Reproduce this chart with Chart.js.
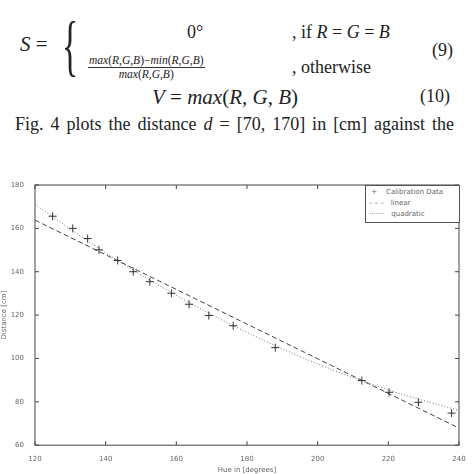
<!DOCTYPE html>
<html>
<head>
<script src="https://cdn.jsdelivr.net/npm/chart.js@4.4.0/dist/chart.umd.min.js"></script>
<style>
body { margin: 0; width: 474px; height: 474px; background: #fff; position: relative; overflow: hidden; font-family: 'Liberation Serif', serif; color: #222; }
.t { position: absolute; white-space: nowrap; }
i { font-style: italic; }
#wrap { position: absolute; left: 0; top: 168px; width: 474px; height: 306px; }
#legend { position: absolute; left: 365px; top: 185px; width: 93px; height: 36px; border: 1px solid #555; background: #fff; font-family: 'DejaVu Sans', sans-serif; font-size: 7px; color: #666; }
#legend div { position: absolute; left: 3px; white-space: nowrap; }
</style>
</head>
<body>
<div class="t" style="left:20px;top:32px;font-size:21px;"><i>S</i> =</div>
<div class="t" style="left:62px;top:6px;font-size:68px;font-weight:100;transform:scaleX(0.5);transform-origin:left;">{</div>
<div class="t" style="left:187px;top:22px;font-size:18px;">0°</div>
<div class="t" style="left:88px;top:54px;font-size:11.5px;text-align:center;line-height:13px;">
  <div style="border-bottom:1px solid #333;padding:0 1px;"><i>max</i>(<i>R,G,B</i>)−<i>min</i>(<i>R,G,B</i>)</div>
  <div><i>max</i>(<i>R,G,B</i>)</div>
</div>
<div class="t" style="left:292px;top:22px;font-size:18px;">, if <i>R</i> = <i>G</i> = <i>B</i></div>
<div class="t" style="left:292px;top:57px;font-size:18px;">, otherwise</div>
<div class="t" style="left:432px;top:40px;font-size:18px;">(9)</div>
<div class="t" style="left:152px;top:85px;font-size:21px;"><i>V</i> = <i>max</i>(<i>R, G, B</i>)</div>
<div class="t" style="left:420px;top:86px;font-size:18px;">(10)</div>
<div class="t" style="left:15px;top:114px;font-size:18px;word-spacing:2.5px;">Fig. 4 plots the distance <i>d</i> = [70, 170] in [cm] against the</div>

<div id="wrap"><canvas id="c"></canvas></div>
<div id="legend">
  <div style="top:2px;">&nbsp;+&nbsp;&nbsp;&nbsp;&nbsp;Calibration Data</div>
  <div style="top:13px;">– – –&nbsp;&nbsp;&nbsp;linear</div>
  <div style="top:24px;">·······&nbsp;&nbsp;&nbsp;quadratic</div>
</div>
<script>
// calibration points
const hueData = [125, 130.7, 134.9, 138.1, 143.4, 147.8, 152.5, 158.6, 163.6, 169.2, 176.1, 188, 212.5, 220.2, 228.5, 237.9];
const distData = [165.6, 160, 155.3, 150.1, 145.2, 140, 135.4, 130.1, 125, 119.8, 115.1, 105, 89.8, 84.4, 79.8, 74.8];
// fitted curves as seen in the figure
const linX = [120, 240];
const linY = [163.8, 67.9];
const quadX = [120, 140, 160, 180, 200, 220, 240];
const quadY = [171, 148.7, 129.1, 112, 97.5, 85.5, 76];
const xTicks = [120, 140, 160, 180, 200, 220, 240];
const yTicks = [60, 80, 100, 120, 140, 160, 180];

function pts(xs, ys) {
    const out = [];
    for (let i = 0; i < xs.length; i++) out.push({ x: xs[i], y: ys[i] });
    return out;
}

// box around the plot with inward ticks, matlab style
const framePlugin = {
    id: 'frame',
    afterDraw(chart) {
        const a = chart.chartArea, ctx = chart.ctx;
        const xs = chart.scales.x, ys = chart.scales.y;
        ctx.save();
        ctx.strokeStyle = '#444';
        ctx.lineWidth = 1;
        ctx.strokeRect(a.left, a.top, a.right - a.left, a.bottom - a.top);
        ctx.beginPath();
        xTicks.forEach(v => {
            const p = xs.getPixelForValue(v);
            ctx.moveTo(p, a.bottom); ctx.lineTo(p, a.bottom - 4);
            ctx.moveTo(p, a.top); ctx.lineTo(p, a.top + 4);
        });
        yTicks.forEach(v => {
            const p = ys.getPixelForValue(v);
            ctx.moveTo(a.left, p); ctx.lineTo(a.left + 4, p);
            ctx.moveTo(a.right, p); ctx.lineTo(a.right - 4, p);
        });
        ctx.stroke();
        ctx.restore();
    }
};

const tickFont = { family: 'DejaVu Sans', size: 7 };

new Chart(document.getElementById('c'), {
    type: 'scatter',
    data: {
        datasets: [
            { label: 'Calibration Data', data: pts(hueData, distData), pointStyle: 'cross', pointRadius: 4, borderColor: '#333', borderWidth: 1 },
            { label: 'linear', type: 'line', data: pts(linX, linY), borderColor: '#444', borderWidth: 1, borderDash: [5, 3], pointRadius: 0, fill: false },
            { label: 'quadratic', type: 'line', data: pts(quadX, quadY), borderColor: '#777', borderWidth: 1, borderDash: [1, 2], pointRadius: 0, tension: 0.4, cubicInterpolationMode: 'monotone', fill: false }
        ]
    },
    options: {
        responsive: true,
        maintainAspectRatio: false,
        animation: false,
        layout: { padding: { top: 17, right: 15, left: 0, bottom: 0 } },
        plugins: { legend: { display: false }, tooltip: { enabled: false } },
        scales: {
            x: {
                type: 'linear', min: 120, max: 240,
                afterBuildTicks: s => { s.ticks = xTicks.map(v => ({ value: v })); },
                grid: { display: false },
                border: { display: false },
                ticks: { font: tickFont, color: '#666', padding: 2 },
                title: { display: true, text: 'Hue in [degrees]', font: tickFont, color: '#666', padding: 0 }
            },
            y: {
                min: 60, max: 180,
                afterBuildTicks: s => { s.ticks = yTicks.map(v => ({ value: v })); },
                afterFit: s => { s.width = 35; },
                grid: { display: false },
                border: { display: false },
                ticks: { font: tickFont, color: '#666', padding: 3 },
                title: { display: true, text: 'Distance [cm]', font: tickFont, color: '#666', padding: 0 }
            }
        }
    },
    plugins: [framePlugin]
});
</script>
</body>
</html>
